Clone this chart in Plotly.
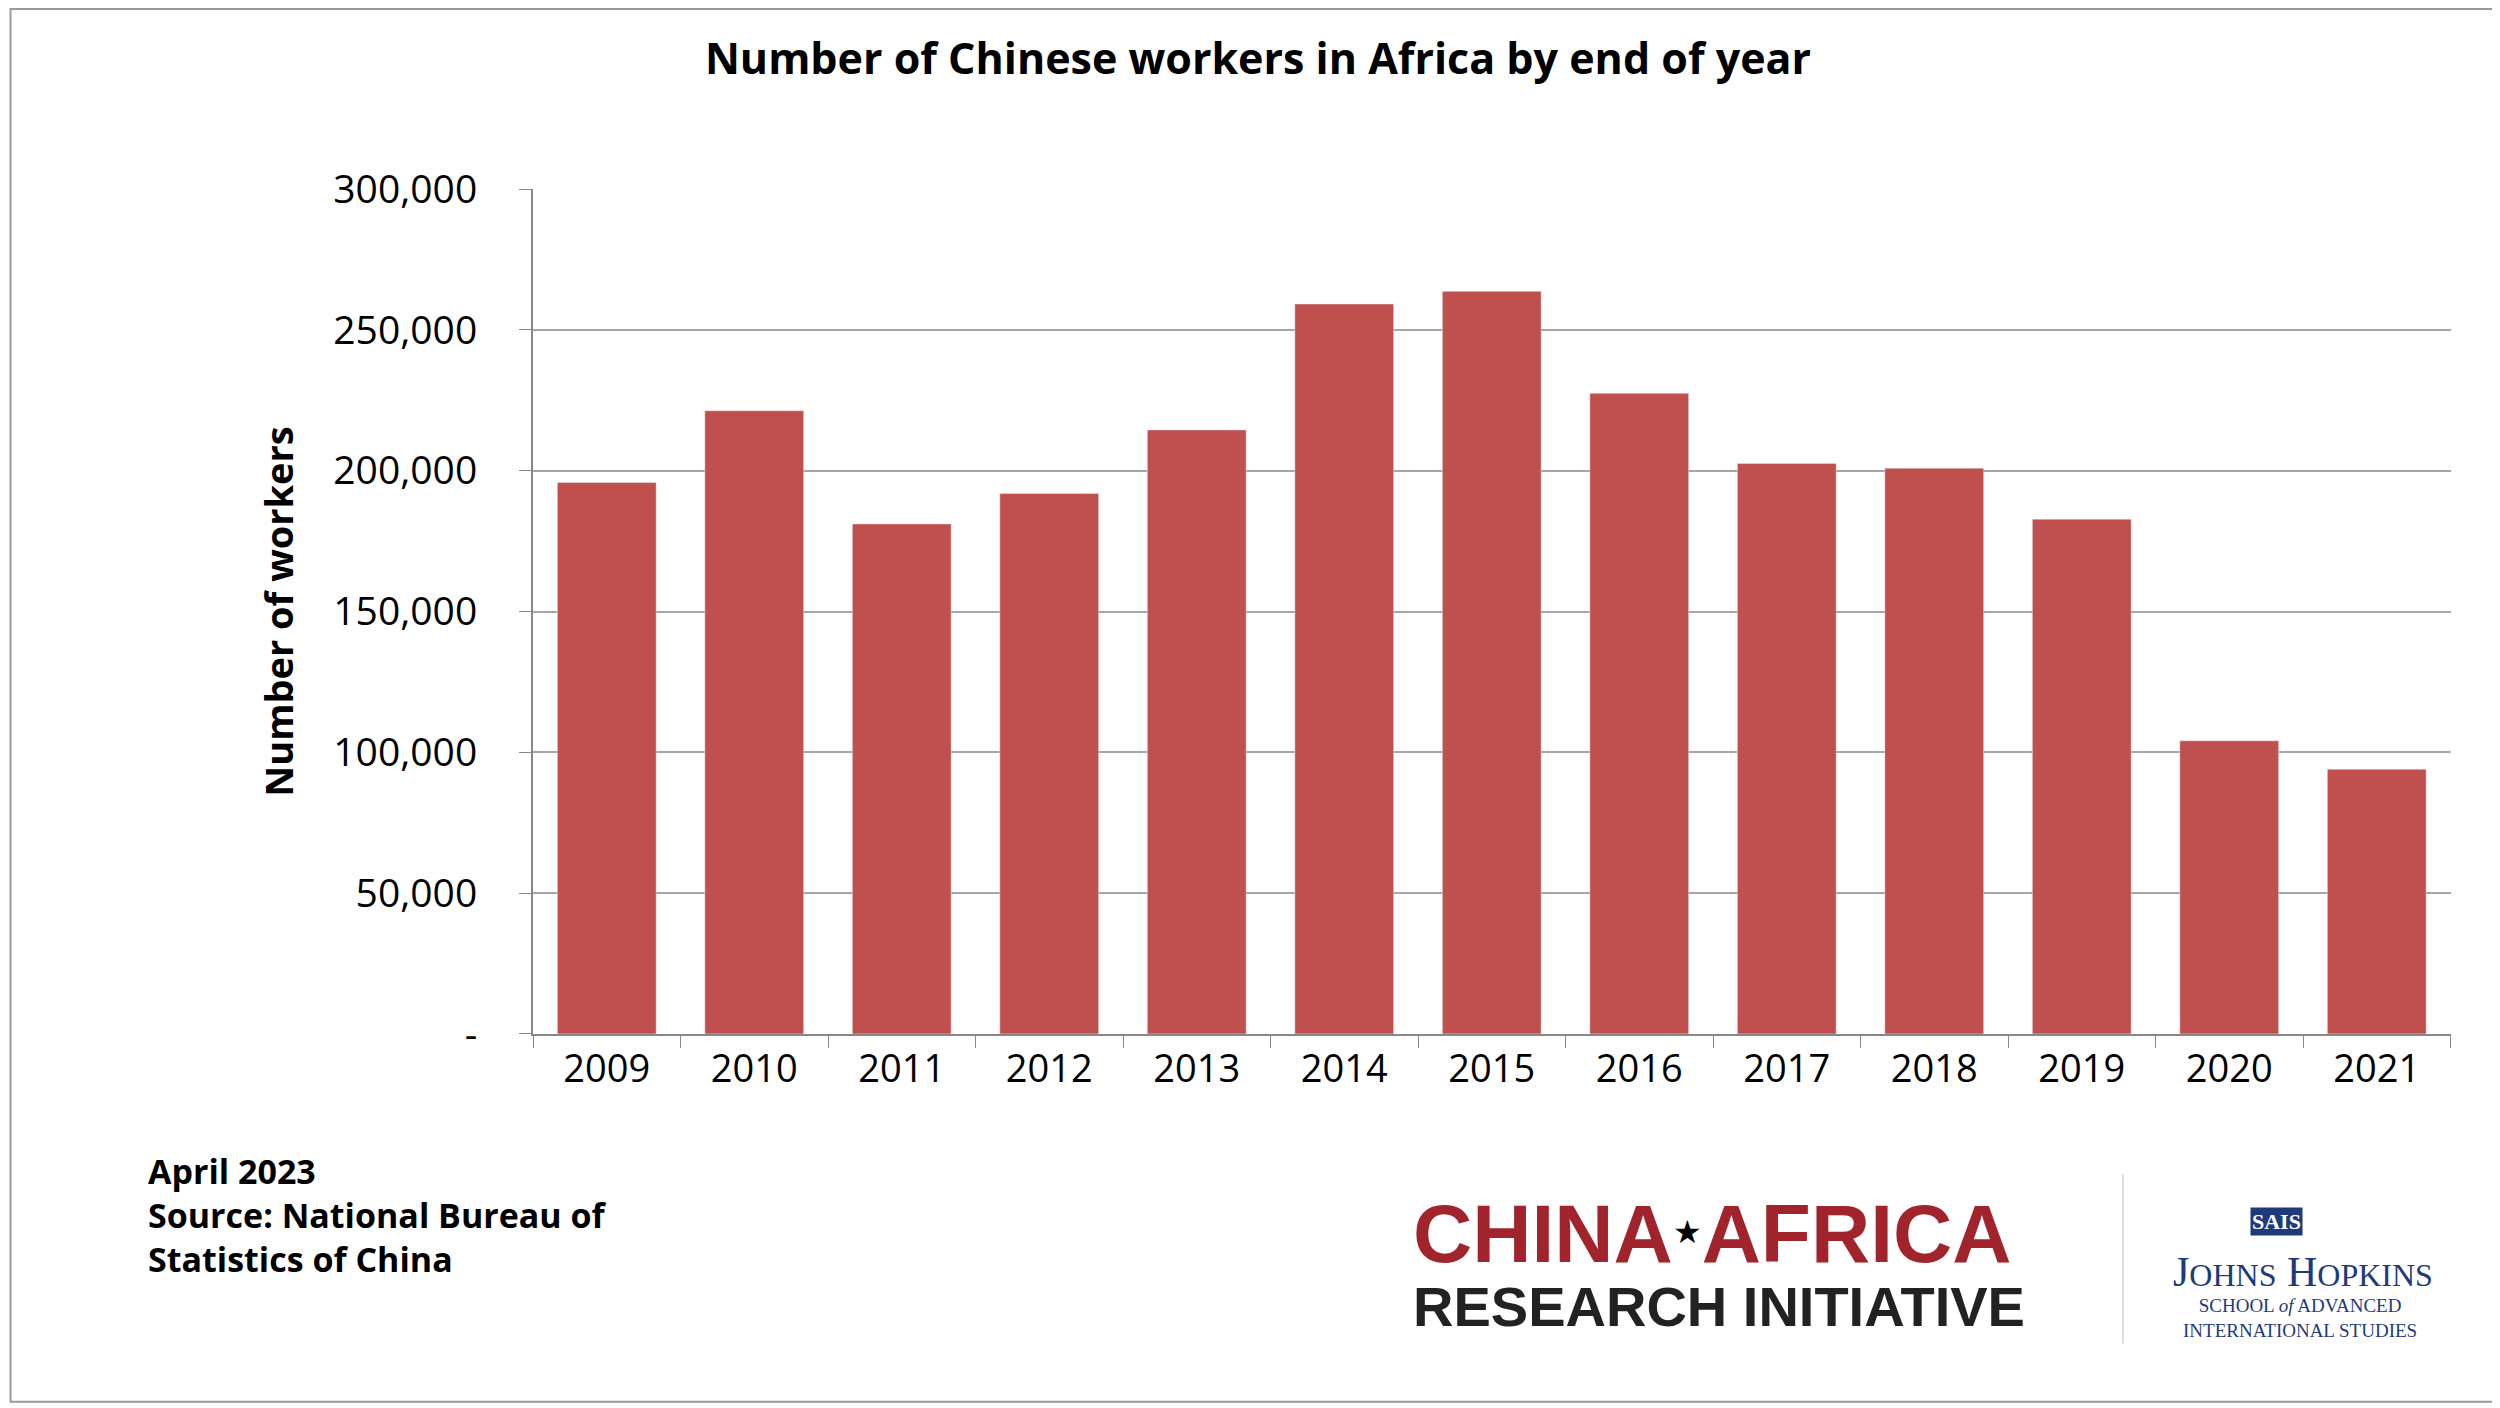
import plotly.graph_objects as go

years = ["2009", "2010", "2011", "2012", "2013", "2014", "2015",
         "2016", "2017", "2018", "2019", "2020", "2021"]
workers = [195800, 221300, 181100, 191900, 214500, 259200, 263700,
           227500, 202600, 200900, 182800, 104100, 94000]
y_ticks = [0, 50000, 100000, 150000, 200000, 250000, 300000]
y_tick_text = ["-", "50,000", "100,000", "150,000", "200,000", "250,000", "300,000"]

font = "Open Sans"

fig = go.Figure(go.Bar(x=years, y=workers, marker_color="#C0504D", width=0.67))

fig.update_layout(
    width=2500, height=1408, paper_bgcolor="white", plot_bgcolor="white",
    margin=dict(l=0, r=0, t=0, b=0), showlegend=False,
    font=dict(family=font, color="black"),
    title=dict(text="<b>Number of Chinese workers in Africa by end of year</b>",
               x=0.5, xanchor="center", y=0.964, yanchor="middle",
               font=dict(size=43, family=font)),
    xaxis=dict(domain=[0.21, 0.977], tickson="boundaries", ticks="outside",
               ticklen=12, tickcolor="#888", showline=True, linecolor="#888",
               linewidth=2, tickfont=dict(size=38)),
    yaxis=dict(domain=[0.2635, 0.887], range=[0, 300000], tickvals=y_ticks,
               ticktext=y_tick_text, showgrid=True, gridcolor="#A6A6A6",
               gridwidth=2, showline=True, linecolor="#888", linewidth=2,
               ticks="outside", ticklen=12, tickcolor="#888",
               ticklabelstandoff=34, tickfont=dict(size=39),
               title=dict(text="<b>Number of workers</b>", font=dict(size=38),
                          standoff=28)),
)

# outer border
fig.add_shape(type="rect", xref="paper", yref="paper", x0=0.001, x1=0.999,
              y0=-0.008, y1=1.02, line=dict(color="#999", width=2))

fig.add_annotation(xref="paper", yref="paper", x=0.055, y=0.181, xanchor="left",
                   yanchor="top", align="left", showarrow=False,
                   text="<b>April 2023<br>Source: National Bureau of<br>Statistics of China</b>",
                   font=dict(size=34, family=font))

fig.add_annotation(xref="paper", yref="paper", x=0.561, y=0.116, xanchor="left",
                   yanchor="middle", showarrow=False,
                   text="<b>CHINA</b><span style='color:black;font-size:46px'><sup>★</sup></span><b>AFRICA</b>",
                   font=dict(size=82, family="Liberation Sans", color="#A1232B"))
fig.add_annotation(xref="paper", yref="paper", x=0.561, y=0.062, xanchor="left",
                   yanchor="middle", showarrow=False,
                   text="<b>RESEARCH INITIATIVE</b>",
                   font=dict(size=56, family="Liberation Sans", color="#222"))
fig.add_shape(type="line", xref="paper", yref="paper", x0=0.846, x1=0.846,
              y0=0.035, y1=0.16, line=dict(color="#ddd", width=2))
fig.add_annotation(xref="paper", yref="paper", x=0.918, y=0.125, showarrow=False,
                   yanchor="middle", text="<b>SAIS</b>", bgcolor="#1F3A7A",
                   font=dict(size=22, family="Liberation Serif", color="white"))
fig.add_annotation(xref="paper", yref="paper", x=0.865, y=0.088, xanchor="left",
                   yanchor="middle", showarrow=False,
                   text="J<span style='font-size:32px'>OHNS</span> H<span style='font-size:32px'>OPKINS</span>",
                   font=dict(size=42, family="Liberation Serif", color="#1F3A7A"))
fig.add_annotation(xref="paper", yref="paper", x=0.869, y=0.054, xanchor="left",
                   yanchor="middle", showarrow=False,
                   text="SCHOOL <i>of</i> ADVANCED<br>INTERNATIONAL STUDIES",
                   font=dict(size=19, family="Liberation Serif", color="#1F3A7A"))

fig.write_html("out.html")
